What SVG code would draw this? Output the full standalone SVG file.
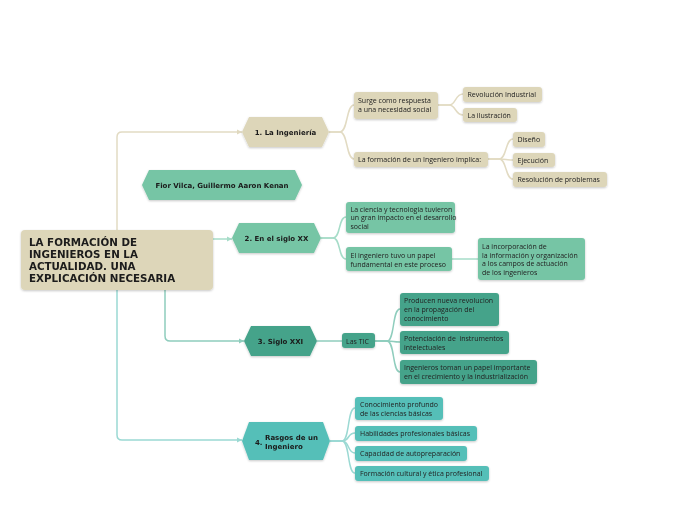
<svg xmlns="http://www.w3.org/2000/svg" width="697" height="520" viewBox="0 0 697 520">
<defs>
<filter id="sh" x="-10%" y="-20%" width="120%" height="150%">
<feDropShadow dx="0" dy="1" stdDeviation="1" flood-color="#000" flood-opacity="0.22"/>
</filter>
<marker id="ab" markerWidth="6" markerHeight="6" refX="5" refY="3" orient="auto" markerUnits="userSpaceOnUse"><path d="M0,0.5 L5,3 L0,5.5 z" fill="#e0d9bf"/></marker>
<marker id="ag" markerWidth="6" markerHeight="6" refX="5" refY="3" orient="auto" markerUnits="userSpaceOnUse"><path d="M0,0.5 L5,3 L0,5.5 z" fill="#a6dcc8"/></marker>
<marker id="ad" markerWidth="6" markerHeight="6" refX="5" refY="3" orient="auto" markerUnits="userSpaceOnUse"><path d="M0,0.5 L5,3 L0,5.5 z" fill="#8fcdbd"/></marker>
<marker id="at" markerWidth="6" markerHeight="6" refX="5" refY="3" orient="auto" markerUnits="userSpaceOnUse"><path d="M0,0.5 L5,3 L0,5.5 z" fill="#9bd9d3"/></marker>
</defs>
<style>
.c{fill:none;stroke-width:1.5}
.cb{stroke:#e2dbc3}
.cg{stroke:#a6dcc8}
.cd{stroke:#8fcdbd}
.ct{stroke:#9bd9d3}
.beige{fill:#ddd6b9}
.green{fill:#76c5a5}
.dark{fill:#45a38a}
.teal{fill:#55bfb8}
.n{filter:url(#sh)}
.h{font-family:"DejaVu Sans",Verdana,sans-serif;font-weight:bold;font-size:7px;fill:#1a1a1a;text-anchor:middle}
.t{font-family:"Open Sans","Noto Sans",sans-serif;font-size:7px;fill:#222}
.title{font-family:"DejaVu Sans",Verdana,sans-serif;font-weight:bold;font-size:10.3px;fill:#1a1a1a}
</style>
<rect width="697" height="520" fill="#ffffff"/>

<g id="connectors">
<path class="c cb" d="M117,230 V137 Q117,132 122,132 H242" marker-end="url(#ab)"/>
<path class="c cg" d="M213,239 H232" marker-end="url(#ag)"/>
<path class="c cd" d="M165,290 V336 Q165,341 170,341 H244" marker-end="url(#ad)"/>
<path class="c ct" d="M117,290 V435 Q117,440 122,440 H242" marker-end="url(#at)"/>

<path class="c cb" d="M329,132 H340 C348,132 346,105 354,105"/>
<path class="c cb" d="M329,132 H340 C348,132 346,159 354,159"/>
<path class="c cb" d="M438,105 H449 C456,105 455,94 463,94"/>
<path class="c cb" d="M438,105 H449 C456,105 455,115 463,115"/>
<path class="c cb" d="M488,159 H499 C507,159 505,139 513,139"/>
<path class="c cb" d="M488,159 H499 C507,159 505,160 513,160"/>
<path class="c cb" d="M488,159 H499 C507,159 505,179 513,179"/>

<path class="c cg" d="M321,238 H333 C341,238 338,217 346,217"/>
<path class="c cg" d="M321,238 H333 C341,238 338,259 346,259"/>
<path class="c cg" d="M452,259 H478"/>

<path class="c cd" d="M317,341 H342"/>
<path class="c cd" d="M375,341 H387 C395,341 392,309 400,309"/>
<path class="c cd" d="M375,341 H387 C395,341 392,342 400,342"/>
<path class="c cd" d="M375,341 H387 C395,341 392,372 400,372"/>

<path class="c ct" d="M330,441 H342 C350,441 347,408 355,408"/>
<path class="c ct" d="M330,441 H342 C350,441 347,433 355,433"/>
<path class="c ct" d="M330,441 H342 C350,441 347,453 355,453"/>
<path class="c ct" d="M330,441 H342 C350,441 347,473 355,473"/>
</g>

<g id="main" class="n">
<rect class="beige" x="21" y="230" width="192" height="60" rx="4"/>
<text class="title" x="29" y="246">LA FORMACIÓN DE</text>
<text class="title" x="29" y="258">INGENIEROS EN LA</text>
<text class="title" x="29" y="270">ACTUALIDAD. UNA</text>
<text class="title" x="29" y="282">EXPLICACIÓN NECESARIA</text>
</g>

<g id="n1" class="n">
<polygon class="beige" points="242,132 249,117 322,117 329,132 322,147 249,147"/>
<text class="h" x="285.5" y="134.5">1. La Ingeniería</text>
</g>
<g id="authors" class="n">
<polygon class="green" points="142,185 149,170 295,170 302,185 295,200 149,200"/>
<text class="h" x="222" y="187.5">Fior Vilca, Guillermo Aaron Kenan</text>
</g>
<g id="n2" class="n">
<polygon class="green" points="232,238 239,223 314,223 321,238 314,253 239,253"/>
<text class="h" x="276.5" y="240.5">2. En el siglo XX</text>
</g>
<g id="n3" class="n">
<polygon class="dark" points="244,341 251,326 310,326 317,341 310,356 251,356"/>
<text class="h" x="280.5" y="343.5">3. Siglo XXI</text>
</g>
<g id="n4" class="n">
<polygon class="teal" points="242,441 249,422 323,422 330,441 323,460 249,460"/>
<text class="h" x="255" y="444.5" style="text-anchor:start">4.</text>
<text class="h" x="265" y="439.5" style="text-anchor:start">Rasgos de un</text>
<text class="h" x="265" y="448.5" style="text-anchor:start">Ingeniero</text>
</g>

<g id="n1a" class="n">
<rect class="beige" x="354" y="92" width="84" height="27" rx="3"/>
<text class="t" x="358" y="103">Surge como respuesta</text>
<text class="t" x="358" y="112">a una necesidad social</text>
</g>
<g id="n1a1" class="n">
<rect class="beige" x="463" y="87" width="79" height="15" rx="3"/>
<text class="t" x="467.5" y="97">Revolución Industrial</text>
</g>
<g id="n1a2" class="n">
<rect class="beige" x="463" y="108" width="54" height="14" rx="3"/>
<text class="t" x="467.5" y="117.5">La ilustración</text>
</g>
<g id="n1b" class="n">
<rect class="beige" x="354" y="152" width="134" height="15" rx="3"/>
<text class="t" x="358" y="162">La formación de un Ingeniero implica:</text>
</g>
<g id="n1b1" class="n">
<rect class="beige" x="513" y="132" width="32" height="15" rx="3"/>
<text class="t" x="517.5" y="142">Diseño</text>
</g>
<g id="n1b2" class="n">
<rect class="beige" x="513" y="153" width="42" height="14" rx="3"/>
<text class="t" x="517.5" y="162.5">Ejecución</text>
</g>
<g id="n1b3" class="n">
<rect class="beige" x="513" y="172" width="94" height="15" rx="3"/>
<text class="t" x="517.5" y="182">Resolución de problemas</text>
</g>

<g id="n2a" class="n">
<rect class="green" x="346" y="202" width="109" height="31" rx="3"/>
<text class="t" x="350.5" y="211.5">La ciencia y tecnologia tuvieron</text>
<text class="t" x="350.5" y="220">un gran impacto en el desarrollo</text>
<text class="t" x="350.5" y="228.5">social</text>
</g>
<g id="n2b" class="n">
<rect class="green" x="346" y="247" width="106" height="24" rx="3"/>
<text class="t" x="350.5" y="258">El ingeniero tuvo un papel</text>
<text class="t" x="350.5" y="267">fundamental en este proceso</text>
</g>
<g id="n2b1" class="n">
<rect class="green" x="478" y="238" width="107" height="42" rx="3"/>
<text class="t" x="482" y="249">La incorporación de</text>
<text class="t" x="482" y="257.5">la información y organización</text>
<text class="t" x="482" y="266">a los campos de actuación</text>
<text class="t" x="482" y="274.5">de los ingenieros</text>
</g>

<g id="n3a" class="n">
<rect class="dark" x="342" y="333" width="33" height="15" rx="3"/>
<text class="t" x="346" y="343.5">Las TIC</text>
</g>
<g id="n3a1" class="n">
<rect class="dark" x="400" y="293" width="99" height="33" rx="3"/>
<text class="t" x="404" y="302.5">Producen nueva revolucion</text>
<text class="t" x="404" y="311.5">en la propagación del</text>
<text class="t" x="404" y="320.5">conocimiento</text>
</g>
<g id="n3a2" class="n">
<rect class="dark" x="400" y="331" width="109" height="23" rx="3"/>
<text class="t" x="404" y="340.5" xml:space="preserve">Potenciación de  instrumentos</text>
<text class="t" x="404" y="349.5">intelectuales</text>
</g>
<g id="n3a3" class="n">
<rect class="dark" x="400" y="360" width="137" height="24" rx="3"/>
<text class="t" x="404" y="369.5">Ingenieros toman un papel importante</text>
<text class="t" x="404" y="378.5">en el crecimiento y la industrialización</text>
</g>

<g id="n4a" class="n">
<rect class="teal" x="355" y="397" width="88" height="23" rx="3"/>
<text class="t" x="360" y="406.5">Conocimiento profundo</text>
<text class="t" x="360" y="415.5">de las ciencias básicas</text>
</g>
<g id="n4b" class="n">
<rect class="teal" x="355" y="426" width="122" height="15" rx="3"/>
<text class="t" x="360" y="436">Habilidades profesionales básicas</text>
</g>
<g id="n4c" class="n">
<rect class="teal" x="355" y="446" width="112" height="15" rx="3"/>
<text class="t" x="360" y="456">Capacidad de autopreparación</text>
</g>
<g id="n4d" class="n">
<rect class="teal" x="355" y="466" width="134" height="15" rx="3"/>
<text class="t" x="360" y="476">Formación cultural y ética profesional</text>
</g>
</svg>
